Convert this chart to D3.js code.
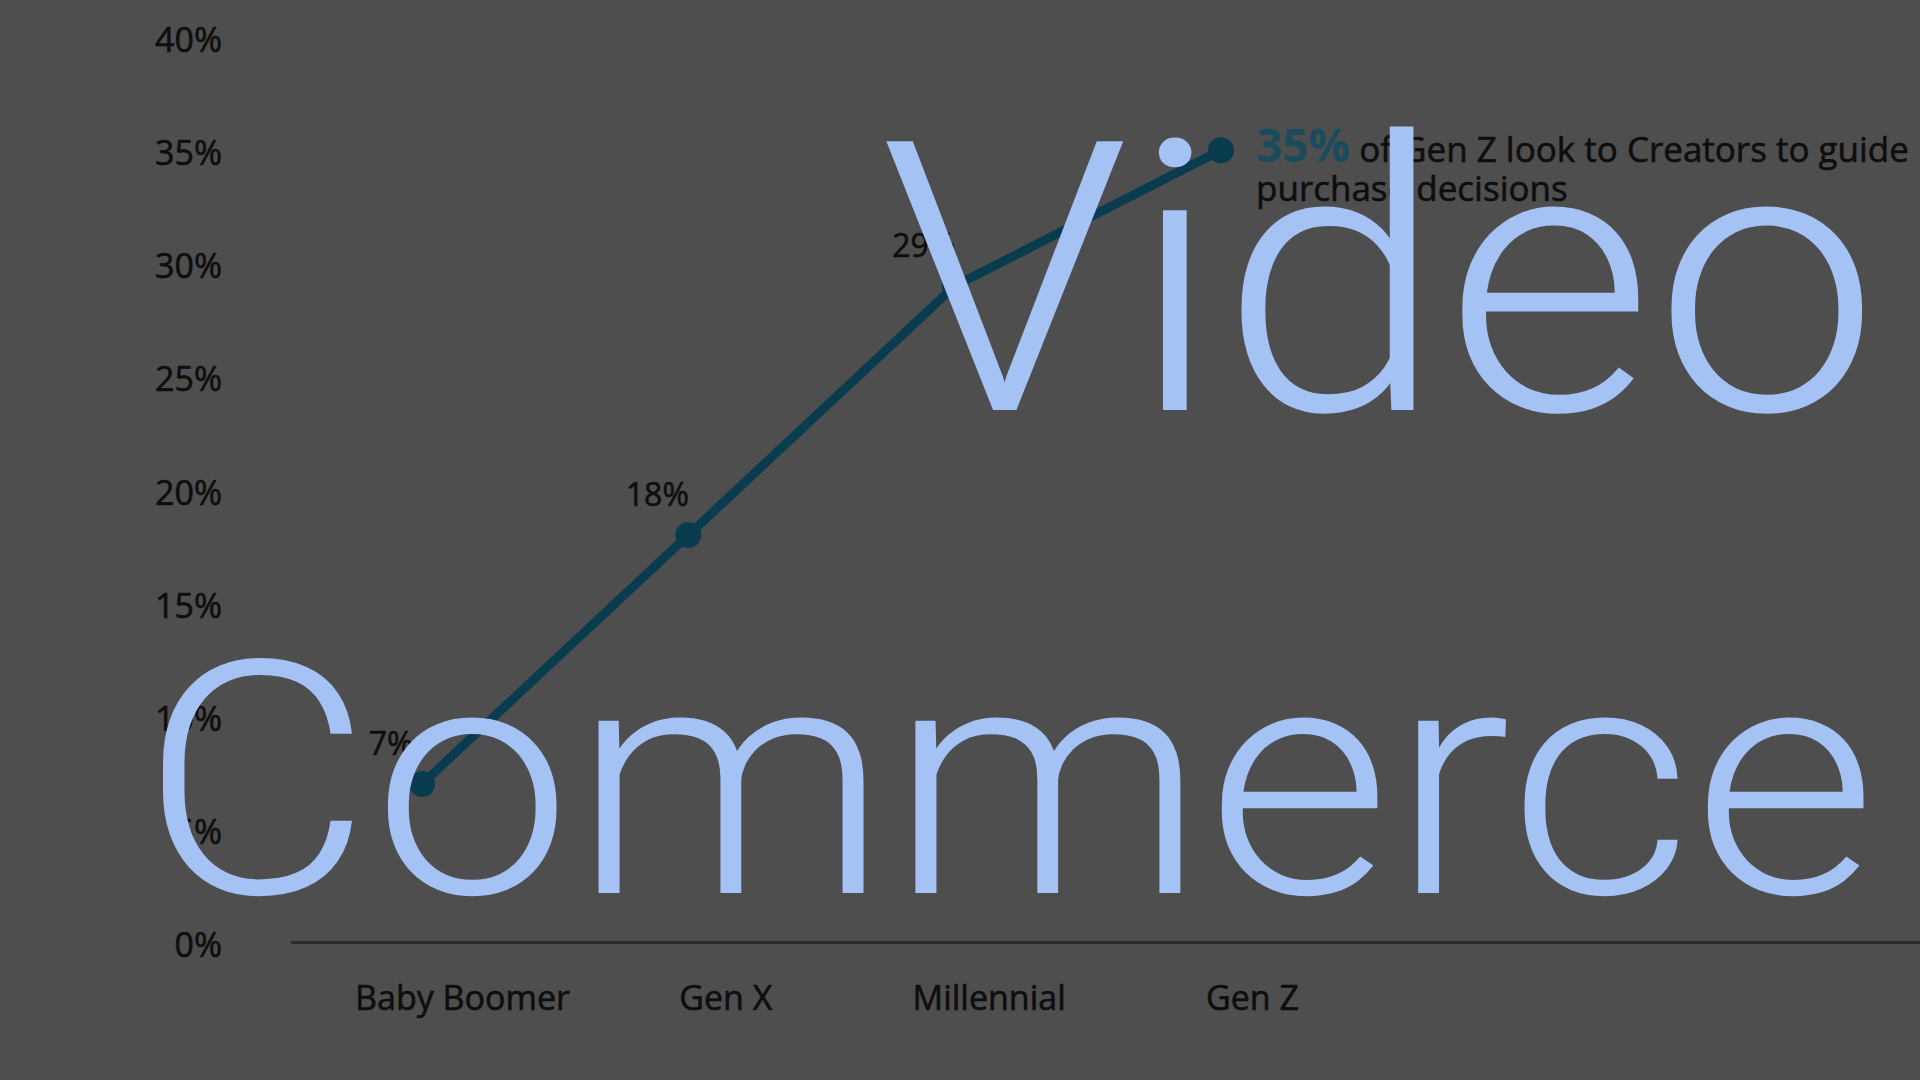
<!DOCTYPE html>
<html><head><meta charset="utf-8">
<script src="https://cdn.jsdelivr.net/npm/d3@7"></script>
<style>html,body{margin:0;padding:0;background:#4e4e4e;overflow:hidden}</style>
</head><body>
<svg id="c" width="1920" height="1080"></svg>
<script>
// ---- data ----
const categories = ["Baby Boomer", "Gen X", "Millennial", "Gen Z"];
const values = [7, 18, 29, 35];
const yTicks = [0, 5, 10, 15, 20, 25, 30, 35, 40];
const yTickLabels = ["0%", "5%", "10%", "15%", "20%", "25%", "30%", "35%", "40%"];
const valueLabels = ["7%", "18%", "29%"];
const highlightLabel = "35%";
const annotationLine1 = " of Gen Z look to Creators to guide";
const annotationLine2 = "purchase decisions";
const titleWords = ["Video", "Commerce"];

// ---- drawing ----
const svg = d3.select("#c");
svg.append("rect").attr("width", 1920).attr("height", 1080).attr("fill", "#4e4e4e");

const y = d3.scaleLinear().domain([0, 40]).range([942.5, 37]);
const xp = d3.scalePoint().domain(categories).range([422, 1221]);
const xl = d3.scalePoint().domain(categories).range([462, 1252]);

const txt = "#0e0e0e";
const teal = "#0a3c50";
const font = "'Open Sans', sans-serif";

function heavy(sel) {
  sel.attr("stroke", txt).attr("stroke-width", 0.6).attr("paint-order", "stroke");
}

// y axis labels
const ya = svg.append("g").attr("transform", "translate(222,0)")
  .call(d3.axisLeft(y).tickValues(yTicks).tickFormat((d, i) => yTickLabels[i]).tickSize(0).tickPadding(0));
ya.select(".domain").remove();
ya.selectAll("text").attr("font-family", font).attr("font-size", 34)
  .attr("fill", txt).attr("dy", "0.42em").call(heavy);

// x axis baseline
svg.append("line").attr("x1", 291).attr("x2", 1920).attr("y1", y(0)).attr("y2", y(0))
  .attr("stroke", "#2c2c2c").attr("stroke-width", 3);

// x axis labels
const xa = svg.append("g").attr("transform", `translate(0,${y(0)})`)
  .call(d3.axisBottom(xl).tickSize(0).tickPadding(43));
xa.select(".domain").remove();
xa.selectAll("text").attr("font-family", font).attr("font-size", 34).attr("fill", txt).call(heavy);

// line + dots
const data = categories.map((c, i) => ({ c, v: values[i] }));
svg.append("path").datum(data)
  .attr("d", d3.line().x(d => xp(d.c)).y(d => y(d.v)))
  .attr("fill", "none").attr("stroke", teal).attr("stroke-width", 9)
  .attr("stroke-linejoin", "round").attr("stroke-linecap", "round");
svg.selectAll("circle.dot").data(data).join("circle").attr("class", "dot")
  .attr("cx", d => xp(d.c)).attr("cy", d => y(d.v)).attr("r", 13).attr("fill", teal);

// value labels
svg.selectAll("text.vl").data(data.slice(0, valueLabels.length)).join("text").attr("class", "vl")
  .attr("x", d => xp(d.c) - 31).attr("y", d => y(d.v) - 29)
  .attr("text-anchor", "middle").attr("font-family", font)
  .attr("font-size", 32).attr("fill", txt)
  .text((d, i) => valueLabels[i]).call(heavy);

// annotation for last point
const last = data[data.length - 1];
const ax = xp(last.c) + 35, ay = y(last.v) + 12;
const ann = svg.append("text").attr("x", ax).attr("y", ay).attr("font-family", font);
ann.append("tspan").attr("font-size", 46).attr("font-weight", 700).attr("fill", "#1b4c5d").text(highlightLabel);
ann.append("tspan").attr("font-size", 35).attr("fill", txt).attr("stroke", txt).attr("stroke-width", 0.6)
  .text(annotationLine1);
svg.append("text").attr("x", ax).attr("y", ay + 39)
  .attr("font-family", font).attr("font-size", 35).attr("fill", txt)
  .text(annotationLine2).call(heavy);

// big overlay title
const blue = "#a4c2f4";
svg.append("text").attr("x", 880).attr("y", 410)
  .attr("font-family", "Roboto, sans-serif").attr("font-weight", 300).attr("font-size", 378)
  .attr("fill", blue).attr("textLength", 1000).attr("lengthAdjust", "spacingAndGlyphs")
  .text(titleWords[0]);
svg.append("text").attr("x", 140).attr("y", 893)
  .attr("font-family", "Roboto, sans-serif").attr("font-weight", 300).attr("font-size", 326)
  .attr("fill", blue).attr("textLength", 1737).attr("lengthAdjust", "spacingAndGlyphs")
  .text(titleWords[1]);
</script>
</body></html>
